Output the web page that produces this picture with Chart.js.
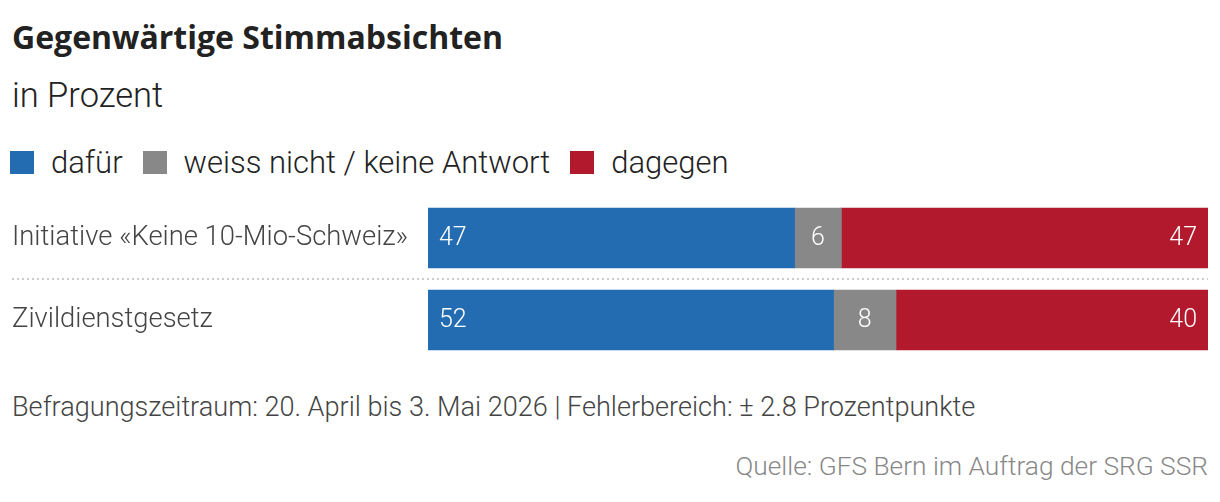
<!DOCTYPE html>
<html>
<head>
<meta charset="utf-8">
<script src="https://cdn.jsdelivr.net/npm/chart.js@4.4.1/dist/chart.umd.min.js"></script>
<style>
  body { margin: 0; background: #fff; font-family: Roboto, "Noto Sans", sans-serif; font-weight: 300; }
  #wrap { position: relative; width: 1220px; height: 502px; overflow: hidden; }
  .t { position: absolute; left: 12px; white-space: nowrap; }
  #title { top: 15px; font-family: "Open Sans", sans-serif; font-size: 32px; font-weight: bold; color: #222; }
  #sub { top: 75px; font-size: 34.5px; color: #222; }
  #legend { position: absolute; left: 10px; top: 151px; display: flex; align-items: center; }
  .li { display: flex; align-items: center; margin-right: 20px; font-size: 31px; color: #222; line-height: 23px; }
  .sw { width: 24px; height: 23px; margin-right: 17px; }
  #note { top: 391px; font-size: 27.1px; color: #444; }
  #src { position: absolute; right: 12px; top: 451px; font-size: 26.3px; color: #888; white-space: nowrap; }
  #cv { position: absolute; left: 0; top: 197px; }
</style>
</head>
<body>
<div id="wrap">
  <div class="t" id="title">Gegenwärtige Stimmabsichten</div>
  <div class="t" id="sub">in Prozent</div>
  <div id="legend"></div>
  <canvas id="cv" width="1220" height="164"></canvas>
  <div class="t" id="note">Befragungszeitraum: 20. April bis 3. Mai 2026 | Fehlerbereich: ± 2.8 Prozentpunkte</div>
  <div id="src">Quelle: GFS Bern im Auftrag der SRG SSR</div>
</div>
<script>
// data
var categories = [ "Initiative «Keine 10-Mio-Schweiz»", "Zivildienstgesetz" ];
var seriesNames = [ "dafür", "weiss nicht / keine Antwort", "dagegen" ];
var dafuer = [ 47, 52 ];
var weissNicht = [ 6, 8 ];
var dagegen = [ 47, 40 ];
var colors = [ "#236cb2", "#888888", "#b3192d" ];

// legend
var leg = document.getElementById( "legend" );
seriesNames.forEach( function ( name, i )
{
        var item = document.createElement( "div" );
        item.className = "li";
        item.innerHTML = '<span class="sw" style="background:' + colors[ i ] + '"></span>' + name;
        leg.appendChild( item );
} );

// labels inside the bars + dotted separator
var barLabels = {
        id: 'barLabels',
        afterDatasetsDraw: function ( chart )
        {
                var ctx = chart.ctx;
                var yScale = chart.scales.y;
                ctx.save();
                // separator
                ctx.strokeStyle = "#cccccc";
                ctx.lineWidth = 2;
                ctx.setLineDash( [ 2, 3 ] );
                for ( var c = 0; c < categories.length - 1; c++ )
                {
                        var ym = Math.round( ( yScale.getPixelForValue( c ) + yScale.getPixelForValue( c + 1 ) ) / 2 );
                        ctx.beginPath();
                        ctx.moveTo( 12, ym );
                        ctx.lineTo( chart.chartArea.right, ym );
                        ctx.stroke();
                }
                ctx.setLineDash( [] );
                ctx.fillStyle = "#ffffff";
                ctx.font = "300 25px Roboto, 'Noto Sans', sans-serif";
                ctx.textBaseline = "middle";
                chart.data.datasets.forEach( function ( ds, di )
                {
                        chart.getDatasetMeta( di ).data.forEach( function ( bar, i )
                        {
                                var v = ds.data[ i ];
                                var x;
                                if ( di === 0 ) { ctx.textAlign = "left"; x = bar.base + 11; }
                                else if ( di === 1 ) { ctx.textAlign = "center"; x = ( bar.base + bar.x ) / 2; }
                                else { ctx.textAlign = "right"; x = bar.x - 11; }
                                ctx.fillText( String( v ), x, bar.y + 1 );
                        } );
                } );
                ctx.restore();
        }
};

var ctx = document.getElementById( "cv" ).getContext( "2d" );
var chart = new Chart( ctx, {
        type: 'bar',
        plugins: [ barLabels ],
        data: {
                labels: categories,
                datasets: [
                        { label: seriesNames[ 0 ], data: dafuer, backgroundColor: colors[ 0 ] },
                        { label: seriesNames[ 1 ], data: weissNicht, backgroundColor: colors[ 1 ] },
                        { label: seriesNames[ 2 ], data: dagegen, backgroundColor: colors[ 2 ] }
                ]
        },
        options: {
                indexAxis: 'y',
                responsive: false,
                animation: false,
                devicePixelRatio: 1,
                barThickness: 60,
                layout: { padding: { left: 12, right: 12, top: 0, bottom: 0 } },
                plugins: {
                        legend: { display: false },
                        tooltip: { enabled: false }
                },
                scales: {
                        x: { stacked: true, min: 0, max: 100, display: false },
                        y: {
                                stacked: true,
                                grid: { display: false },
                                border: { display: false },
                                ticks: {
                                        crossAlign: 'far',
                                        padding: 0,
                                        color: '#444444',
                                        font: { family: "Roboto, 'Noto Sans', sans-serif", size: 27.4, weight: 300 }
                                },
                                afterFit: function ( scale )
                                {
                                        scale.width = 416;
                                        scale.paddingTop = 0;
                                        scale.paddingBottom = 0;
                                }
                        }
                }
        }
} );
</script>
</body>
</html>
